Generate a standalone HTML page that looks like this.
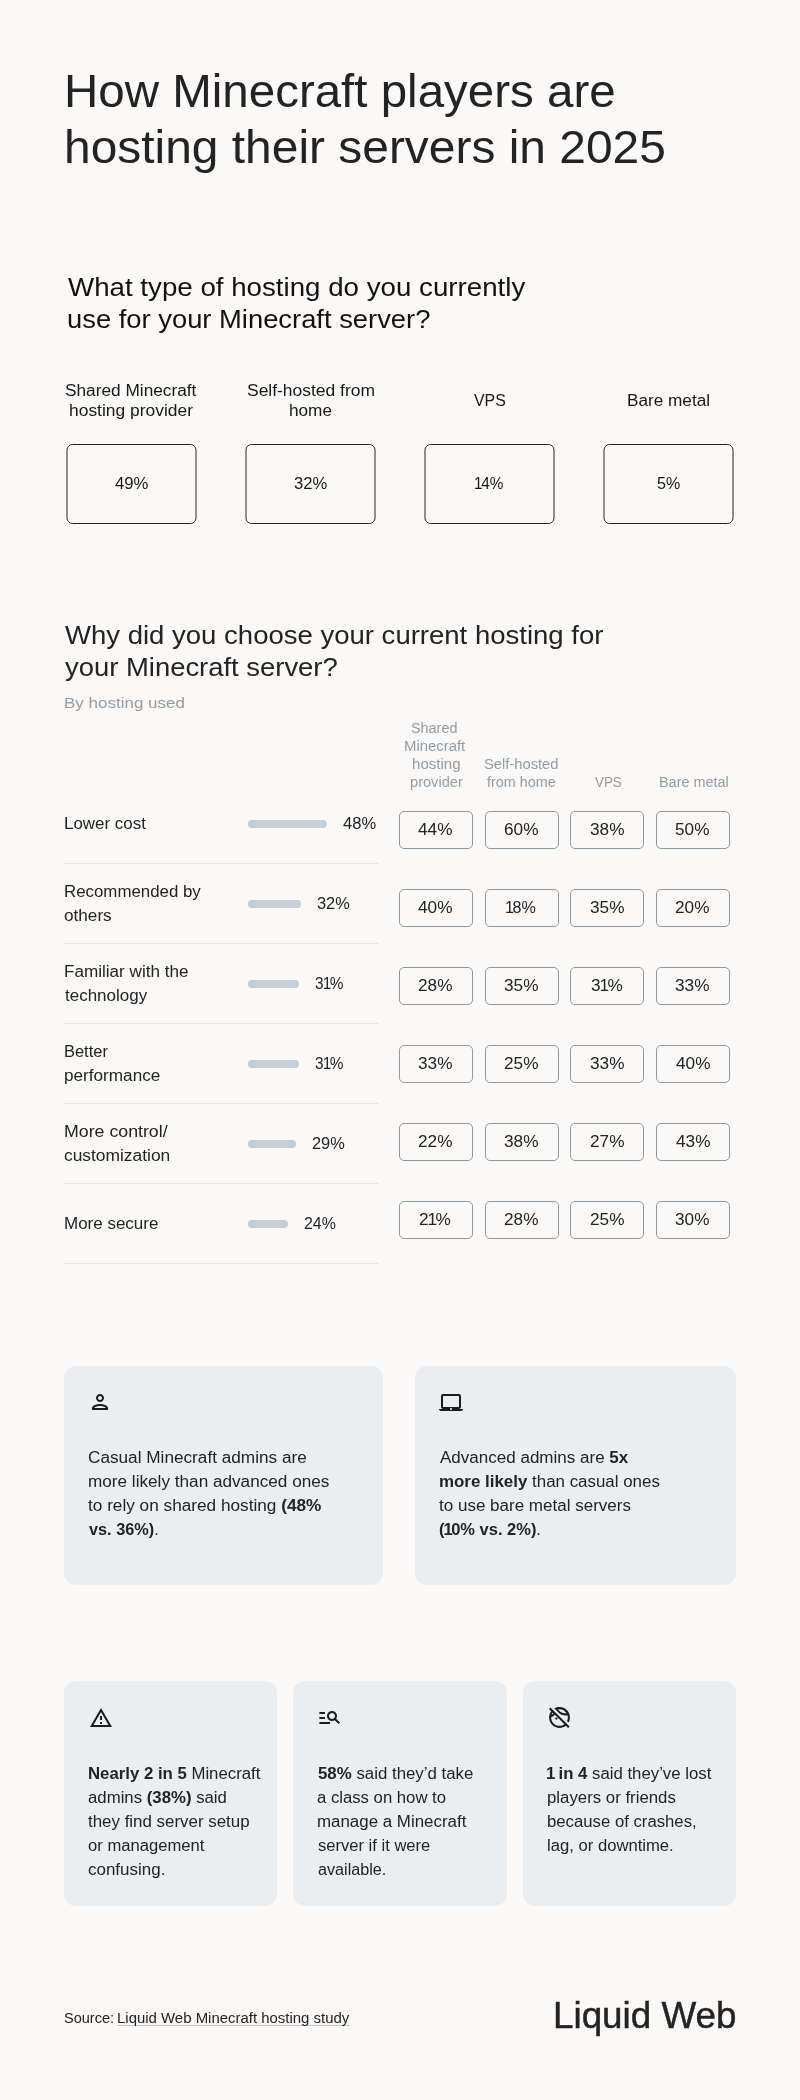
<!DOCTYPE html>
<html lang="en"><head><meta charset="utf-8"><title>How Minecraft players are hosting their servers in 2025</title>
<style>
html,body{margin:0;padding:0}
body{width:800px;height:2100px;background:#faf9f7;position:relative;overflow:hidden;font-family:"Liberation Sans",Arial,sans-serif;color:#232323}
.t{position:absolute;white-space:nowrap;transform-origin:0 0}
#w{position:absolute;left:0;top:0;width:800px;height:2100px;will-change:transform}
.b{position:absolute;box-sizing:border-box;border:1px solid #333}
.r{position:absolute}
.i{position:absolute}
.u{text-decoration:underline;text-decoration-color:#c4c4c4;text-underline-offset:1.5px;text-decoration-thickness:1px;text-decoration-skip-ink:none}
b{font-weight:700}
.n{font-style:normal;margin:0 -0.09em 0 -0.06em}
</style></head><body><div id="w">
<div class="t" style="left:63.80px;top:60.86px;font-size:46px;line-height:60px;transform:scaleX(1.0324)">How Minecraft players are</div>
<div class="t" style="left:63.98px;top:117.26px;font-size:46px;line-height:60px;transform:scaleX(1.0415)">hosting their servers in 2025</div>
<div class="t" style="left:68.08px;top:270.49px;font-size:26px;line-height:34px;color:#121212;transform:scaleX(1.0653)">What type of hosting do you currently</div>
<div class="t" style="left:66.92px;top:302.49px;font-size:26px;line-height:34px;color:#121212;transform:scaleX(1.0522)">use for your Minecraft server?</div>
<div class="t" style="left:65.47px;top:379.96px;font-size:16px;line-height:21px;color:#181818;transform:scaleX(1.0786)">Shared Minecraft</div>
<div class="t" style="left:69.04px;top:399.96px;font-size:16px;line-height:21px;color:#181818;transform:scaleX(1.0892)">hosting provider</div>
<svg class="i" style="left:0;top:440px" width="800" height="90" viewBox="0 0 800 90"><rect x="67.00" y="4.5" width="129" height="79" rx="5.5" fill="none" stroke="#262626" stroke-width="1"/></svg>
<div class="t" style="left:114.57px;top:472.96px;font-size:16px;line-height:21px;color:#181818;transform:scaleX(1.0455)">49%</div>
<div class="t" style="left:246.71px;top:379.96px;font-size:16px;line-height:21px;color:#181818;transform:scaleX(1.0900)">Self-hosted from</div>
<div class="t" style="left:288.81px;top:399.96px;font-size:16px;line-height:21px;color:#181818;transform:scaleX(1.0732)">home</div>
<svg class="i" style="left:0;top:440px" width="800" height="90" viewBox="0 0 800 90"><rect x="246.00" y="4.5" width="129" height="79" rx="5.5" fill="none" stroke="#262626" stroke-width="1"/></svg>
<div class="t" style="left:293.57px;top:472.96px;font-size:16px;line-height:21px;color:#181818;transform:scaleX(1.0375)">32%</div>
<div class="t" style="left:473.93px;top:389.96px;font-size:16px;line-height:21px;color:#181818;transform:scaleX(0.9932)">VPS</div>
<svg class="i" style="left:0;top:440px" width="800" height="90" viewBox="0 0 800 90"><rect x="425.00" y="4.5" width="129" height="79" rx="5.5" fill="none" stroke="#262626" stroke-width="1"/></svg>
<div class="t" style="left:474.70px;top:472.96px;font-size:16px;line-height:21px;color:#181818;transform:scaleX(0.9578)"><i class="n">1</i>4%</div>
<div class="t" style="left:626.84px;top:389.96px;font-size:16px;line-height:21px;color:#181818;transform:scaleX(1.0736)">Bare metal</div>
<svg class="i" style="left:0;top:440px" width="800" height="90" viewBox="0 0 800 90"><rect x="604.00" y="4.5" width="129" height="79" rx="5.5" fill="none" stroke="#262626" stroke-width="1"/></svg>
<div class="t" style="left:656.56px;top:472.96px;font-size:16px;line-height:21px;color:#181818;transform:scaleX(1.0039)">5%</div>
<div class="t" style="left:65.33px;top:618.49px;font-size:26px;line-height:34px;transform:scaleX(1.0584)">Why did you choose your current hosting for</div>
<div class="t" style="left:65.38px;top:649.99px;font-size:26px;line-height:34px;transform:scaleX(1.0545)">your Minecraft server?</div>
<div class="t" style="left:64.21px;top:692.70px;font-size:15px;line-height:20px;color:#929ca4;transform:scaleX(1.1326)">By hosting used</div>
<div class="t" style="left:411.30px;top:719.15px;font-size:14px;line-height:18px;color:#929ca4;transform:scaleX(1.0285)">Shared</div>
<div class="t" style="left:403.73px;top:737.15px;font-size:14px;line-height:18px;color:#929ca4;transform:scaleX(1.0627)">Minecraft</div>
<div class="t" style="left:412.15px;top:755.15px;font-size:14px;line-height:18px;color:#929ca4;transform:scaleX(1.0769)">hosting</div>
<div class="t" style="left:409.76px;top:772.95px;font-size:14px;line-height:18px;color:#929ca4;transform:scaleX(1.0436)">provider</div>
<div class="t" style="left:483.78px;top:755.15px;font-size:14px;line-height:18px;color:#929ca4;transform:scaleX(1.0515)">Self-hosted</div>
<div class="t" style="left:486.75px;top:772.95px;font-size:14px;line-height:18px;color:#929ca4;transform:scaleX(1.0266)">from home</div>
<div class="t" style="left:594.89px;top:772.95px;font-size:14px;line-height:18px;color:#929ca4;transform:scaleX(0.9557)">VPS</div>
<div class="t" style="left:658.52px;top:772.95px;font-size:14px;line-height:18px;color:#929ca4;transform:scaleX(1.0303)">Bare metal</div>
<div class="t" style="left:64.06px;top:812.96px;font-size:16px;line-height:21px;transform:scaleX(1.0581)">Lower cost</div>
<div class="r" style="left:248px;top:820px;width:79.2px;height:8px;background:#c5ced6;border-radius:4px"></div>
<div class="t" style="left:343.32px;top:812.96px;font-size:16px;line-height:21px;transform:scaleX(1.0358)">48%</div>
<div class="r" style="left:64px;top:863px;width:314px;height:1px;background:#e7e6e4"></div>
<div class="b" style="left:398.75px;top:811px;width:74px;height:37.75px;border-color:#8d989f;border-radius:5px"></div>
<div class="t" style="left:418.25px;top:818.76px;font-size:16px;line-height:21px;transform:scaleX(1.0750)">44%</div>
<div class="b" style="left:484.5px;top:811px;width:74px;height:37.75px;border-color:#8d989f;border-radius:5px"></div>
<div class="t" style="left:503.76px;top:818.76px;font-size:16px;line-height:21px;transform:scaleX(1.0750)">60%</div>
<div class="b" style="left:570.25px;top:811px;width:74px;height:37.75px;border-color:#8d989f;border-radius:5px"></div>
<div class="t" style="left:589.62px;top:818.76px;font-size:16px;line-height:21px;transform:scaleX(1.0750)">38%</div>
<div class="b" style="left:656px;top:811px;width:74px;height:37.75px;border-color:#8d989f;border-radius:5px"></div>
<div class="t" style="left:675.35px;top:818.76px;font-size:16px;line-height:21px;transform:scaleX(1.0750)">50%</div>
<div class="t" style="left:64.07px;top:880.96px;font-size:16px;line-height:21px;transform:scaleX(1.0533)">Recommended by</div>
<div class="t" style="left:64.23px;top:904.96px;font-size:16px;line-height:21px;transform:scaleX(1.0725)">others</div>
<div class="r" style="left:248px;top:900px;width:52.8px;height:8px;background:#c5ced6;border-radius:4px"></div>
<div class="t" style="left:316.58px;top:892.96px;font-size:16px;line-height:21px;transform:scaleX(1.0245)">32%</div>
<div class="r" style="left:64px;top:943px;width:314px;height:1px;background:#e7e6e4"></div>
<div class="b" style="left:398.75px;top:889px;width:74px;height:37.75px;border-color:#8d989f;border-radius:5px"></div>
<div class="t" style="left:418.25px;top:896.76px;font-size:16px;line-height:21px;transform:scaleX(1.0750)">40%</div>
<div class="b" style="left:484.5px;top:889px;width:74px;height:37.75px;border-color:#8d989f;border-radius:5px"></div>
<div class="t" style="left:505.88px;top:896.76px;font-size:16px;line-height:21px;transform:scaleX(1.0056)"><i class="n">1</i>8%</div>
<div class="b" style="left:570.25px;top:889px;width:74px;height:37.75px;border-color:#8d989f;border-radius:5px"></div>
<div class="t" style="left:589.62px;top:896.76px;font-size:16px;line-height:21px;transform:scaleX(1.0750)">35%</div>
<div class="b" style="left:656px;top:889px;width:74px;height:37.75px;border-color:#8d989f;border-radius:5px"></div>
<div class="t" style="left:675.26px;top:896.76px;font-size:16px;line-height:21px;transform:scaleX(1.0750)">20%</div>
<div class="t" style="left:64.05px;top:960.96px;font-size:16px;line-height:21px;transform:scaleX(1.0690)">Familiar with the</div>
<div class="t" style="left:65.19px;top:984.96px;font-size:16px;line-height:21px;transform:scaleX(1.0614)">technology</div>
<div class="r" style="left:248px;top:980px;width:51.1px;height:8px;background:#c5ced6;border-radius:4px"></div>
<div class="t" style="left:315.11px;top:972.96px;font-size:16px;line-height:21px;transform:scaleX(0.9633)">3<i class="n">1</i>%</div>
<div class="r" style="left:64px;top:1023px;width:314px;height:1px;background:#e7e6e4"></div>
<div class="b" style="left:398.75px;top:967px;width:74px;height:37.75px;border-color:#8d989f;border-radius:5px"></div>
<div class="t" style="left:418.01px;top:974.76px;font-size:16px;line-height:21px;transform:scaleX(1.0750)">28%</div>
<div class="b" style="left:484.5px;top:967px;width:74px;height:37.75px;border-color:#8d989f;border-radius:5px"></div>
<div class="t" style="left:503.87px;top:974.76px;font-size:16px;line-height:21px;transform:scaleX(1.0750)">35%</div>
<div class="b" style="left:570.25px;top:967px;width:74px;height:37.75px;border-color:#8d989f;border-radius:5px"></div>
<div class="t" style="left:590.91px;top:974.76px;font-size:16px;line-height:21px;transform:scaleX(1.0750)">3<i class="n">1</i>%</div>
<div class="b" style="left:656px;top:967px;width:74px;height:37.75px;border-color:#8d989f;border-radius:5px"></div>
<div class="t" style="left:675.37px;top:974.76px;font-size:16px;line-height:21px;transform:scaleX(1.0750)">33%</div>
<div class="t" style="left:64.10px;top:1040.96px;font-size:16px;line-height:21px;transform:scaleX(1.0277)">Better</div>
<div class="t" style="left:64.34px;top:1064.96px;font-size:16px;line-height:21px;transform:scaleX(1.0723)">performance</div>
<div class="r" style="left:248px;top:1060px;width:51.1px;height:8px;background:#c5ced6;border-radius:4px"></div>
<div class="t" style="left:315.11px;top:1052.96px;font-size:16px;line-height:21px;transform:scaleX(0.9633)">3<i class="n">1</i>%</div>
<div class="r" style="left:64px;top:1103px;width:314px;height:1px;background:#e7e6e4"></div>
<div class="b" style="left:398.75px;top:1045px;width:74px;height:37.75px;border-color:#8d989f;border-radius:5px"></div>
<div class="t" style="left:418.12px;top:1052.76px;font-size:16px;line-height:21px;transform:scaleX(1.0750)">33%</div>
<div class="b" style="left:484.5px;top:1045px;width:74px;height:37.75px;border-color:#8d989f;border-radius:5px"></div>
<div class="t" style="left:503.76px;top:1052.76px;font-size:16px;line-height:21px;transform:scaleX(1.0750)">25%</div>
<div class="b" style="left:570.25px;top:1045px;width:74px;height:37.75px;border-color:#8d989f;border-radius:5px"></div>
<div class="t" style="left:589.62px;top:1052.76px;font-size:16px;line-height:21px;transform:scaleX(1.0750)">33%</div>
<div class="b" style="left:656px;top:1045px;width:74px;height:37.75px;border-color:#8d989f;border-radius:5px"></div>
<div class="t" style="left:675.50px;top:1052.76px;font-size:16px;line-height:21px;transform:scaleX(1.0750)">40%</div>
<div class="t" style="left:63.99px;top:1120.96px;font-size:16px;line-height:21px;transform:scaleX(1.1097)">More control/</div>
<div class="t" style="left:64.21px;top:1144.96px;font-size:16px;line-height:21px;transform:scaleX(1.0858)">customization</div>
<div class="r" style="left:248px;top:1140px;width:47.8px;height:8px;background:#c5ced6;border-radius:4px"></div>
<div class="t" style="left:312.18px;top:1132.96px;font-size:16px;line-height:21px;transform:scaleX(1.0245)">29%</div>
<div class="r" style="left:64px;top:1183px;width:314px;height:1px;background:#e7e6e4"></div>
<div class="b" style="left:398.75px;top:1123px;width:74px;height:37.75px;border-color:#8d989f;border-radius:5px"></div>
<div class="t" style="left:418.01px;top:1130.76px;font-size:16px;line-height:21px;transform:scaleX(1.0750)">22%</div>
<div class="b" style="left:484.5px;top:1123px;width:74px;height:37.75px;border-color:#8d989f;border-radius:5px"></div>
<div class="t" style="left:503.87px;top:1130.76px;font-size:16px;line-height:21px;transform:scaleX(1.0750)">38%</div>
<div class="b" style="left:570.25px;top:1123px;width:74px;height:37.75px;border-color:#8d989f;border-radius:5px"></div>
<div class="t" style="left:589.51px;top:1130.76px;font-size:16px;line-height:21px;transform:scaleX(1.0750)">27%</div>
<div class="b" style="left:656px;top:1123px;width:74px;height:37.75px;border-color:#8d989f;border-radius:5px"></div>
<div class="t" style="left:675.50px;top:1130.76px;font-size:16px;line-height:21px;transform:scaleX(1.0750)">43%</div>
<div class="t" style="left:64.06px;top:1212.96px;font-size:16px;line-height:21px;transform:scaleX(1.0616)">More secure</div>
<div class="r" style="left:248px;top:1220px;width:39.6px;height:8px;background:#c5ced6;border-radius:4px"></div>
<div class="t" style="left:304.10px;top:1212.96px;font-size:16px;line-height:21px;transform:scaleX(0.9952)">24%</div>
<div class="r" style="left:64px;top:1263px;width:314px;height:1px;background:#e7e6e4"></div>
<div class="b" style="left:398.75px;top:1201px;width:74px;height:37.75px;border-color:#8d989f;border-radius:5px"></div>
<div class="t" style="left:419.30px;top:1208.76px;font-size:16px;line-height:21px;transform:scaleX(1.0750)">2<i class="n">1</i>%</div>
<div class="b" style="left:484.5px;top:1201px;width:74px;height:37.75px;border-color:#8d989f;border-radius:5px"></div>
<div class="t" style="left:503.76px;top:1208.76px;font-size:16px;line-height:21px;transform:scaleX(1.0750)">28%</div>
<div class="b" style="left:570.25px;top:1201px;width:74px;height:37.75px;border-color:#8d989f;border-radius:5px"></div>
<div class="t" style="left:589.51px;top:1208.76px;font-size:16px;line-height:21px;transform:scaleX(1.0750)">25%</div>
<div class="b" style="left:656px;top:1201px;width:74px;height:37.75px;border-color:#8d989f;border-radius:5px"></div>
<div class="t" style="left:675.37px;top:1208.76px;font-size:16px;line-height:21px;transform:scaleX(1.0750)">30%</div>
<div class="r" style="left:64px;top:1366px;width:319px;height:219px;background:#ebeef1;border-radius:12px"></div>
<div class="r" style="left:415px;top:1366px;width:321px;height:219px;background:#ebeef1;border-radius:12px"></div>
<div class="t" style="left:87.83px;top:1446.96px;font-size:16px;line-height:21px;transform:scaleX(1.0741)">Casual Minecraft admins are</div>
<div class="t" style="left:87.56px;top:1470.96px;font-size:16px;line-height:21px;transform:scaleX(1.0726)">more likely than advanced ones</div>
<div class="t" style="left:88.44px;top:1494.96px;font-size:16px;line-height:21px;transform:scaleX(1.0751)">to rely on shared hosting <b>(48%</b></div>
<div class="t" style="left:88.64px;top:1518.96px;font-size:16px;line-height:21px;transform:scaleX(1.0170)"><b>vs. 36%)</b>.</div>
<div class="t" style="left:439.67px;top:1446.96px;font-size:16px;line-height:21px;transform:scaleX(1.0636)">Advanced admins are <b>5x</b></div>
<div class="t" style="left:438.59px;top:1470.96px;font-size:16px;line-height:21px;transform:scaleX(1.0565)"><b>more likely</b> than casual ones</div>
<div class="t" style="left:439.44px;top:1494.96px;font-size:16px;line-height:21px;transform:scaleX(1.0634)">to use bare metal servers</div>
<div class="t" style="left:438.88px;top:1518.96px;font-size:16px;line-height:21px;transform:scaleX(1.0297)"><b>(<i class="n">1</i>0% vs. 2%)</b>.</div>
<div class="r" style="left:64px;top:1681px;width:213px;height:225px;background:#ebeef1;border-radius:12px"></div>
<div class="r" style="left:293px;top:1681px;width:213.5px;height:225px;background:#ebeef1;border-radius:12px"></div>
<div class="r" style="left:522.5px;top:1681px;width:213.5px;height:225px;background:#ebeef1;border-radius:12px"></div>
<div class="t" style="left:87.58px;top:1762.96px;font-size:16px;line-height:21px;transform:scaleX(1.0476)"><b>Nearly 2 in 5</b> Minecraft</div>
<div class="t" style="left:87.99px;top:1786.96px;font-size:16px;line-height:21px;transform:scaleX(1.0483)">admins <b>(38%)</b> said</div>
<div class="t" style="left:88.44px;top:1810.96px;font-size:16px;line-height:21px;transform:scaleX(1.0562)">they find server setup</div>
<div class="t" style="left:88.00px;top:1834.96px;font-size:16px;line-height:21px;transform:scaleX(1.0389)">or management</div>
<div class="t" style="left:87.98px;top:1858.96px;font-size:16px;line-height:21px;transform:scaleX(1.0608)">confusing.</div>
<div class="t" style="left:317.68px;top:1762.96px;font-size:16px;line-height:21px;transform:scaleX(1.0523)"><b>58%</b> said they’d take</div>
<div class="t" style="left:317.49px;top:1786.96px;font-size:16px;line-height:21px;transform:scaleX(1.0436)">a class on how to</div>
<div class="t" style="left:317.08px;top:1810.96px;font-size:16px;line-height:21px;transform:scaleX(1.0561)">manage a Minecraft</div>
<div class="t" style="left:317.74px;top:1834.96px;font-size:16px;line-height:21px;transform:scaleX(1.0353)">server if it were</div>
<div class="t" style="left:317.51px;top:1858.96px;font-size:16px;line-height:21px;transform:scaleX(1.0098)">available.</div>
<div class="t" style="left:546.64px;top:1762.96px;font-size:16px;line-height:21px;transform:scaleX(1.0478)"><b><i class="n">1</i> in 4</b> said they’ve lost</div>
<div class="t" style="left:546.62px;top:1786.96px;font-size:16px;line-height:21px;transform:scaleX(1.0495)">players or friends</div>
<div class="t" style="left:546.62px;top:1810.96px;font-size:16px;line-height:21px;transform:scaleX(1.0453)">because of crashes,</div>
<div class="t" style="left:546.58px;top:1834.96px;font-size:16px;line-height:21px;transform:scaleX(1.0403)">lag, or downtime.</div>
<svg class="i" style="left:88px;top:1390px" width="24" height="24" viewBox="0 0 24 24"><path fill="#1c1c1c" d="M12 6c1.1 0 2 .9 2 2s-.9 2-2 2-2-.9-2-2 .9-2 2-2m0 10c2.7 0 5.8 1.29 6 2H6c.23-.72 3.31-2 6-2m0-12C9.79 4 8 5.79 8 8s1.79 4 4 4 4-1.79 4-4-1.79-4-4-4zm0 10c-2.67 0-8 1.34-8 4v2h16v-2c0-2.66-5.33-4-8-4z"/></svg>
<svg class="i" style="left:439px;top:1390.7px" width="24" height="24" viewBox="0 0 24 24"><path fill="#1c1c1c" d="M20 18c1.1 0 1.99-.9 1.99-2L22 5c0-1.1-.9-2-2-2H4c-1.1 0-2 .9-2 2v11c0 1.1.9 2 2 2H0c0 1.1.9 2 2 2h20c1.1 0 2-.9 2-2h-4zM4 5h16v11H4V5zm8 14c-.55 0-1-.45-1-1s.45-1 1-1 1 .45 1 1-.45 1-1 1z"/></svg>
<svg class="i" style="left:89.0px;top:1705.6px" width="24" height="24" viewBox="0 0 24 24"><path fill="#1c1c1c" d="M12 5.99L19.53 19H4.47L12 5.99M12 2L1 21h22L12 2zm1 14h-2v2h2v-2zm0-6h-2v4h2v-4z"/></svg>
<svg class="i" style="left:317.5px;top:1705.2px" width="24" height="24" viewBox="0 0 24 24"><path fill="#1c1c1c" d="M7 9H1.4V7H7v2zm0 3H1.4v2H7v-2zm13.59 7l-3.83-3.83c-.8.52-1.74.83-2.76.83-2.76 0-5-2.24-5-5s2.24-5 5-5 5 2.24 5 5c0 1.02-.31 1.96-.83 2.75L22 17.59 20.590 19zM17 11c0-1.650-1.350-3-3-3s-3 1.350-3 3 1.350 3 3 3 3-1.350 3-3zM1.4 19H12v-2H1.4v2z"/></svg>
<svg class="i" style="left:547.4px;top:1705.4px" width="25" height="25" viewBox="0 0 24 24"><path fill="#1c1c1c" d="M10.1 13c0 .61-.49 1.1-1.1 1.1S7.9 13.61 7.9 13s.49-1.1 1.1-1.1 1.1.49 1.1 1.1zM17.5 10c.75 0 1.47-.09 2.17-.24.21.71.33 1.46.33 2.24 0 1.22-.28 2.37-.77 3.400l1.490 1.490C21.530 15.440 22 13.780 22 12c0-5.520-4.480-10-10-10-1.780 0-3.440.470-4.890 1.280l5.330 5.330C13.930 9.490 15.650 10 17.500 10zm-6.840-5.880c.430-.07.880-.12 1.340-.12 2.900 0 5.440 1.560 6.840 3.880-.430.070-.880.120-1.340.120-2.900 0-5.440-1.560-6.840-3.880zm-8.770-.4l2.190 2.190C2.780 7.600 2 9.710 2 12c0 5.520 4.480 10 10 10 2.290 0 4.400-.78 6.090-2.080l2.190 2.190 1.410-1.410L3.310 2.310 1.890 3.720zm14.770 14.770C15.350 19.440 13.740 20 12 20c-4.410 0-8-3.590-8-8 0-.05.010-.1 0-.14 1.390-.52 2.630-1.350 3.640-2.390l9.020 9.020zM6.230 8.060c-.53.550-1.140 1.030-1.810 1.410.26-.77.630-1.480 1.090-2.130l.72.720z"/></svg>
<div class="t" style="left:64.44px;top:2008.75px;font-size:14px;line-height:18px;transform:scaleX(1.0360)">Source:</div>
<div class="t" style="left:117.07px;top:2008.75px;font-size:14px;line-height:18px;transform:scaleX(1.0672)"><span class="u">Liquid Web Minecraft hosting study</span></div>
<div class="t" style="left:553.28px;top:1992.03px;font-size:36px;line-height:47px;transform:scaleX(1.0218)"><span style="-webkit-text-stroke:0.45px #232323">Liquid Web</span></div>
</div></body></html>
